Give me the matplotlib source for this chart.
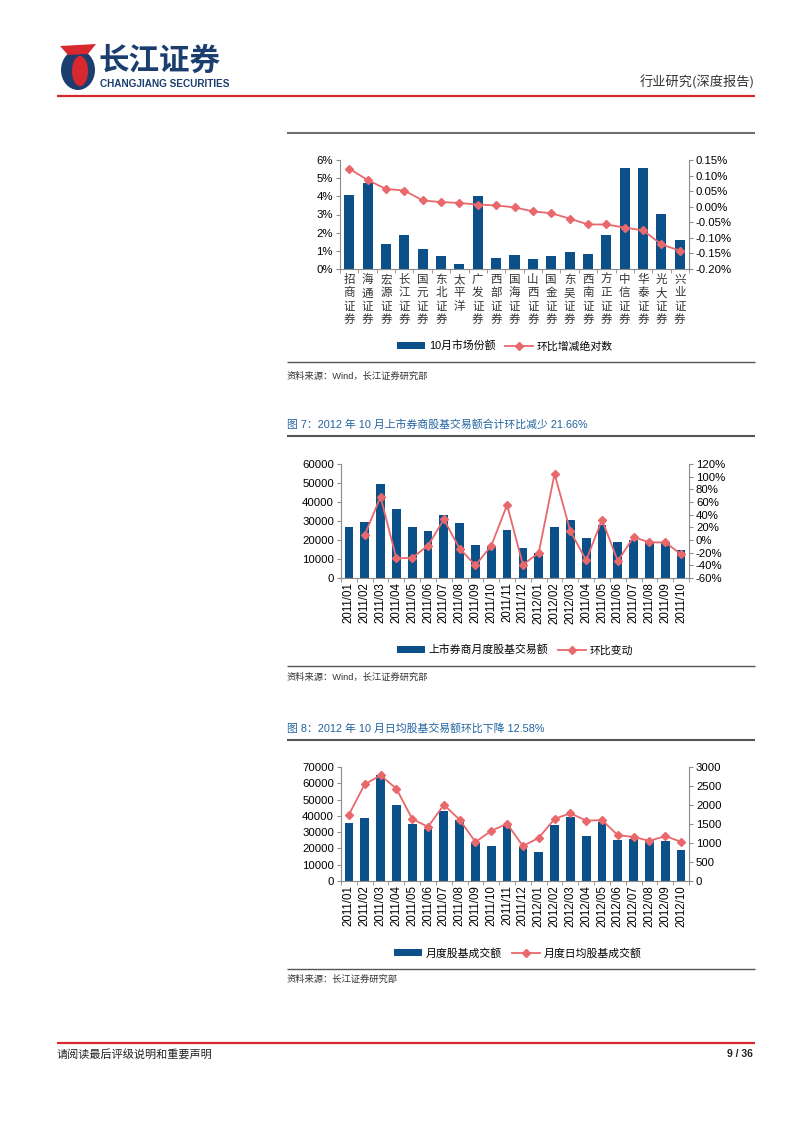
import matplotlib
matplotlib.use("Agg")
import matplotlib.pyplot as plt
import numpy as np
from matplotlib.lines import Line2D
from matplotlib.patches import Patch, Ellipse, Polygon

plt.rcParams['font.family'] = ['Liberation Sans', 'Noto Sans CJK SC', 'DejaVu Sans']
plt.rcParams['axes.unicode_minus'] = False

# ---------------- data ----------------
# chart 1
brokers = ["招商证券", "海通证券", "宏源证券", "长江证券", "国元证券", "东北证券", "太平洋",
           "广发证券", "西部证券", "国海证券", "山西证券", "国金证券", "东吴证券", "西南证券",
           "方正证券", "中信证券", "华泰证券", "光大证券", "兴业证券"]
share_oct = [4.05, 4.75, 1.38, 1.88, 1.10, 0.70, 0.30, 4.00, 0.60, 0.75, 0.55, 0.70,
             0.93, 0.83, 1.88, 5.55, 5.58, 3.02, 1.60]
share_change = [0.122, 0.086, 0.057, 0.052, 0.020, 0.015, 0.012, 0.007, 0.004, -0.002,
                -0.015, -0.021, -0.038, -0.057, -0.057, -0.067, -0.076, -0.121, -0.141]
c1_left_ticks = [0, 1, 2, 3, 4, 5, 6]
c1_right_ticks = [-0.20, -0.15, -0.10, -0.05, 0.00, 0.05, 0.10, 0.15]

# chart 2
months2 = ["2011/01", "2011/02", "2011/03", "2011/04", "2011/05", "2011/06", "2011/07",
           "2011/08", "2011/09", "2011/10", "2011/11", "2011/12", "2012/01", "2012/02",
           "2012/03", "2011/04", "2011/05", "2011/06", "2011/07", "2011/08", "2011/09",
           "2011/10"]
listed_volume = [27100, 29500, 49600, 36400, 26600, 24500, 33200, 28900, 17400, 16500,
                 25500, 15900, 12900, 26600, 30300, 21200, 28000, 19100, 20200, 19200,
                 18700, 14600]
mom_change = [np.nan, 8.0, 68.2, -29.2, -27.9, -9.0, 32.6, -13.5, -40.0, -9.0, 55.5, -39.0,
              -20.3, 104.5, 13.8, -32.0, 32.0, -33.0, 4.6, -3.8, -3.8, -22.5]
c2_left_ticks = [0, 10000, 20000, 30000, 40000, 50000, 60000]
c2_right_ticks = [-60, -40, -20, 0, 20, 40, 60, 80, 100, 120]

# chart 3
months3 = ["2011/01", "2011/02", "2011/03", "2011/04", "2011/05", "2011/06", "2011/07",
           "2011/08", "2011/09", "2011/10", "2011/11", "2011/12", "2012/01", "2012/02",
           "2012/03", "2012/04", "2012/05", "2012/06", "2012/07", "2012/08", "2012/09",
           "2012/10"]
monthly_volume = [35500, 38500, 65000, 46500, 34800, 31800, 42800, 37300, 23200, 21300,
                  33800, 20600, 17600, 34200, 39000, 27500, 36000, 25000, 25500, 25000,
                  24300, 18800]
daily_avg_volume = [1747, 2545, 2780, 2430, 1635, 1425, 2005, 1612, 1027, 1320, 1505, 920,
                    1136, 1634, 1782, 1590, 1602, 1206, 1158, 1056, 1183, 1030]
c3_left_ticks = [0, 10000, 20000, 30000, 40000, 50000, 60000, 70000]
c3_right_ticks = [0, 500, 1000, 1500, 2000, 2500, 3000]

# ---------------- styles ----------------
W, H = 800, 1132
BAR = "#0B5088"
LINE = "#E8686C"
AXC = "#8C8C8C"
TITLE_C = "#1F63A0"
RED = "#D7282F"

fig = plt.figure(figsize=(W / 100, H / 100), dpi=100)


def fx(x):
    return x / W


def fy(y):
    return 1 - y / H


def hline(y, x0, x1, color, lw):
    fig.add_artist(Line2D([fx(x0), fx(x1)], [fy(y), fy(y)], transform=fig.transFigure,
                          color=color, lw=lw, solid_capstyle='butt'))


def ftext(x, y, s, **kw):
    fig.text(fx(x), fy(y), s, **kw)


# ---------------- header/footer ----------------
hline(95.5, 57, 755, RED, 1.6)
hline(1043, 57, 755, RED, 1.6)
# logo
fig.add_artist(Ellipse((fx(78), fy(70)), 34 / W, 40 / H, transform=fig.transFigure,
                       facecolor="#1B3E6E", edgecolor='none'))
fig.add_artist(Ellipse((fx(80), fy(71)), 16 / W, 30 / H, transform=fig.transFigure,
                       facecolor="#D7282F", edgecolor='none'))
fig.add_artist(Polygon([[fx(60), fy(46)], [fx(96), fy(44)], [fx(88), fy(54)], [fx(68), fy(55)]],
                       closed=True, transform=fig.transFigure, facecolor=RED, edgecolor='none'))
ftext(98, 70, "长江证券", fontsize=22, fontweight='bold', color="#1B3E6E",
      family=['Noto Sans CJK SC'], va='baseline', ha='left')
ftext(100, 87, "CHANGJIANG SECURITIES", fontsize=7.2, fontweight='bold', color="#1B3E6E",
      va='baseline', ha='left')
ftext(755, 82, "行业研究(深度报告)", fontsize=9.5, color="#333333",
      family=['Noto Sans CJK SC'], va='center', ha='right')
ftext(57, 1054, "请阅读最后评级说明和重要声明", fontsize=8, color="#222222",
      family=['Noto Sans CJK SC'], va='center', ha='left')
ftext(753, 1054, "9 / 36", fontsize=7.5, fontweight='bold', color="#222222",
      va='center', ha='right')

# ---------------- section lines/text ----------------
hline(133, 287, 755, "#6E6E6E", 1.5)
hline(362, 287, 755, "#555555", 1.0)
ftext(287, 376, "资料来源：Wind，长江证券研究部", fontsize=6.7, color="#333333", va='center')
ftext(287, 424, "图 7：2012 年 10 月上市券商股基交易额合计环比减少 21.66%", fontsize=7.8,
      color=TITLE_C, va='center')
hline(436, 287, 755, "#555555", 1.5)
hline(666, 287, 755, "#555555", 1.0)
ftext(287, 677, "资料来源：Wind，长江证券研究部", fontsize=6.7, color="#333333", va='center')
ftext(287, 728, "图 8：2012 年 10 月日均股基交易额环比下降 12.58%", fontsize=7.8,
      color=TITLE_C, va='center')
hline(740, 287, 755, "#555555", 1.5)
hline(969, 287, 755, "#555555", 1.0)
ftext(287, 979, "资料来源：长江证券研究部", fontsize=6.7, color="#333333", va='center')


def style_axes(ax, ax2, n):
    for a in (ax, ax2):
        a.set_facecolor('none')
        a.spines['top'].set_visible(False)
        for s in ('left', 'right', 'bottom'):
            a.spines[s].set_color(AXC)
            a.spines[s].set_linewidth(0.8)
    ax.spines['right'].set_visible(False)
    ax2.spines['left'].set_visible(False)
    ax2.spines['bottom'].set_visible(False)
    ax.tick_params(axis='y', direction='out', length=3, color=AXC, labelsize=8.2, pad=2)
    ax2.tick_params(axis='y', direction='out', length=3, color=AXC, labelsize=8.2, pad=2)
    ax.set_xlim(-0.5, n - 0.5)
    ax.set_xticks(np.arange(n))
    ax.set_xticks(np.arange(n + 1) - 0.5, minor=True)
    ax.tick_params(axis='x', which='major', length=0, pad=3)
    ax.tick_params(axis='x', which='minor', length=3, color=AXC, direction='out')


def add_legend(ax, bar_label, line_label, cx, cy):
    handles = [Patch(facecolor=BAR, edgecolor='none'),
               Line2D([], [], color=LINE, lw=1.3, marker='D', markersize=4.5)]
    ax.legend(handles, [bar_label, line_label], loc='center', ncol=2,
              bbox_to_anchor=(fx(cx), fy(cy)), bbox_transform=fig.transFigure,
              frameon=False, handlelength=2.6, handleheight=0.7,
              handletextpad=0.35, columnspacing=0.9,
              prop={'family': ['Liberation Sans', 'Noto Sans CJK SC'], 'size': 7.8})


# ---------------- chart 1 ----------------
ax1 = fig.add_axes([fx(340), fy(269), fx(689) - fx(340), (269 - 160) / H])
x1 = np.arange(len(brokers))
ax1.bar(x1, share_oct, width=0.55, color=BAR, zorder=2)
ax1.set_ylim(0, 6)
ax1.set_yticks(c1_left_ticks)
ax1.set_yticklabels([f"{v}%" for v in c1_left_ticks])
ax1b = ax1.twinx()
ax1b.plot(x1, share_change, color=LINE, lw=1.3, marker='D', markersize=4.5, zorder=3)
ax1b.set_ylim(-0.20, 0.15)
ax1b.set_yticks(c1_right_ticks)
ax1b.set_yticklabels([f"{v:.2f}%" for v in c1_right_ticks])
style_axes(ax1, ax1b, len(brokers))
ax1.set_xticklabels(["\n".join(b) for b in brokers], family=['Noto Sans CJK SC'],
                    fontsize=8.3, linespacing=1.02, color="#333333", va='top')
add_legend(ax1, "10月市场份额", "环比增减绝对数", 505, 346)

# ---------------- chart 2 ----------------
ax2 = fig.add_axes([fx(341), fy(578), fx(689) - fx(341), (578 - 464) / H])
x2 = np.arange(len(months2))
ax2.bar(x2, listed_volume, width=0.55, color=BAR, zorder=2)
ax2.set_ylim(0, 60000)
ax2.set_yticks(c2_left_ticks)
ax2b = ax2.twinx()
ax2b.plot(x2, mom_change, color=LINE, lw=1.3, marker='D', markersize=4.5, zorder=3)
ax2b.set_ylim(-60, 120)
ax2b.set_yticks(c2_right_ticks)
ax2b.set_yticklabels([f"{v}%" for v in c2_right_ticks])
style_axes(ax2, ax2b, len(months2))
ax2.set_xticklabels(months2, rotation=90, fontsize=8.3)
add_legend(ax2, "上市券商月度股基交易额", "环比变动", 515, 650)

# ---------------- chart 3 ----------------
ax3 = fig.add_axes([fx(341), fy(881), fx(689) - fx(341), (881 - 767) / H])
x3 = np.arange(len(months3))
ax3.bar(x3, monthly_volume, width=0.55, color=BAR, zorder=2)
ax3.set_ylim(0, 70000)
ax3.set_yticks(c3_left_ticks)
ax3b = ax3.twinx()
ax3b.plot(x3, daily_avg_volume, color=LINE, lw=1.3, marker='D', markersize=4.5, zorder=3)
ax3b.set_ylim(0, 3000)
ax3b.set_yticks(c3_right_ticks)
style_axes(ax3, ax3b, len(months3))
ax3.set_xticklabels(months3, rotation=90, fontsize=8.3)
add_legend(ax3, "月度股基成交额", "月度日均股基成交额", 518, 953)

fig.savefig("out.png", dpi=100)
